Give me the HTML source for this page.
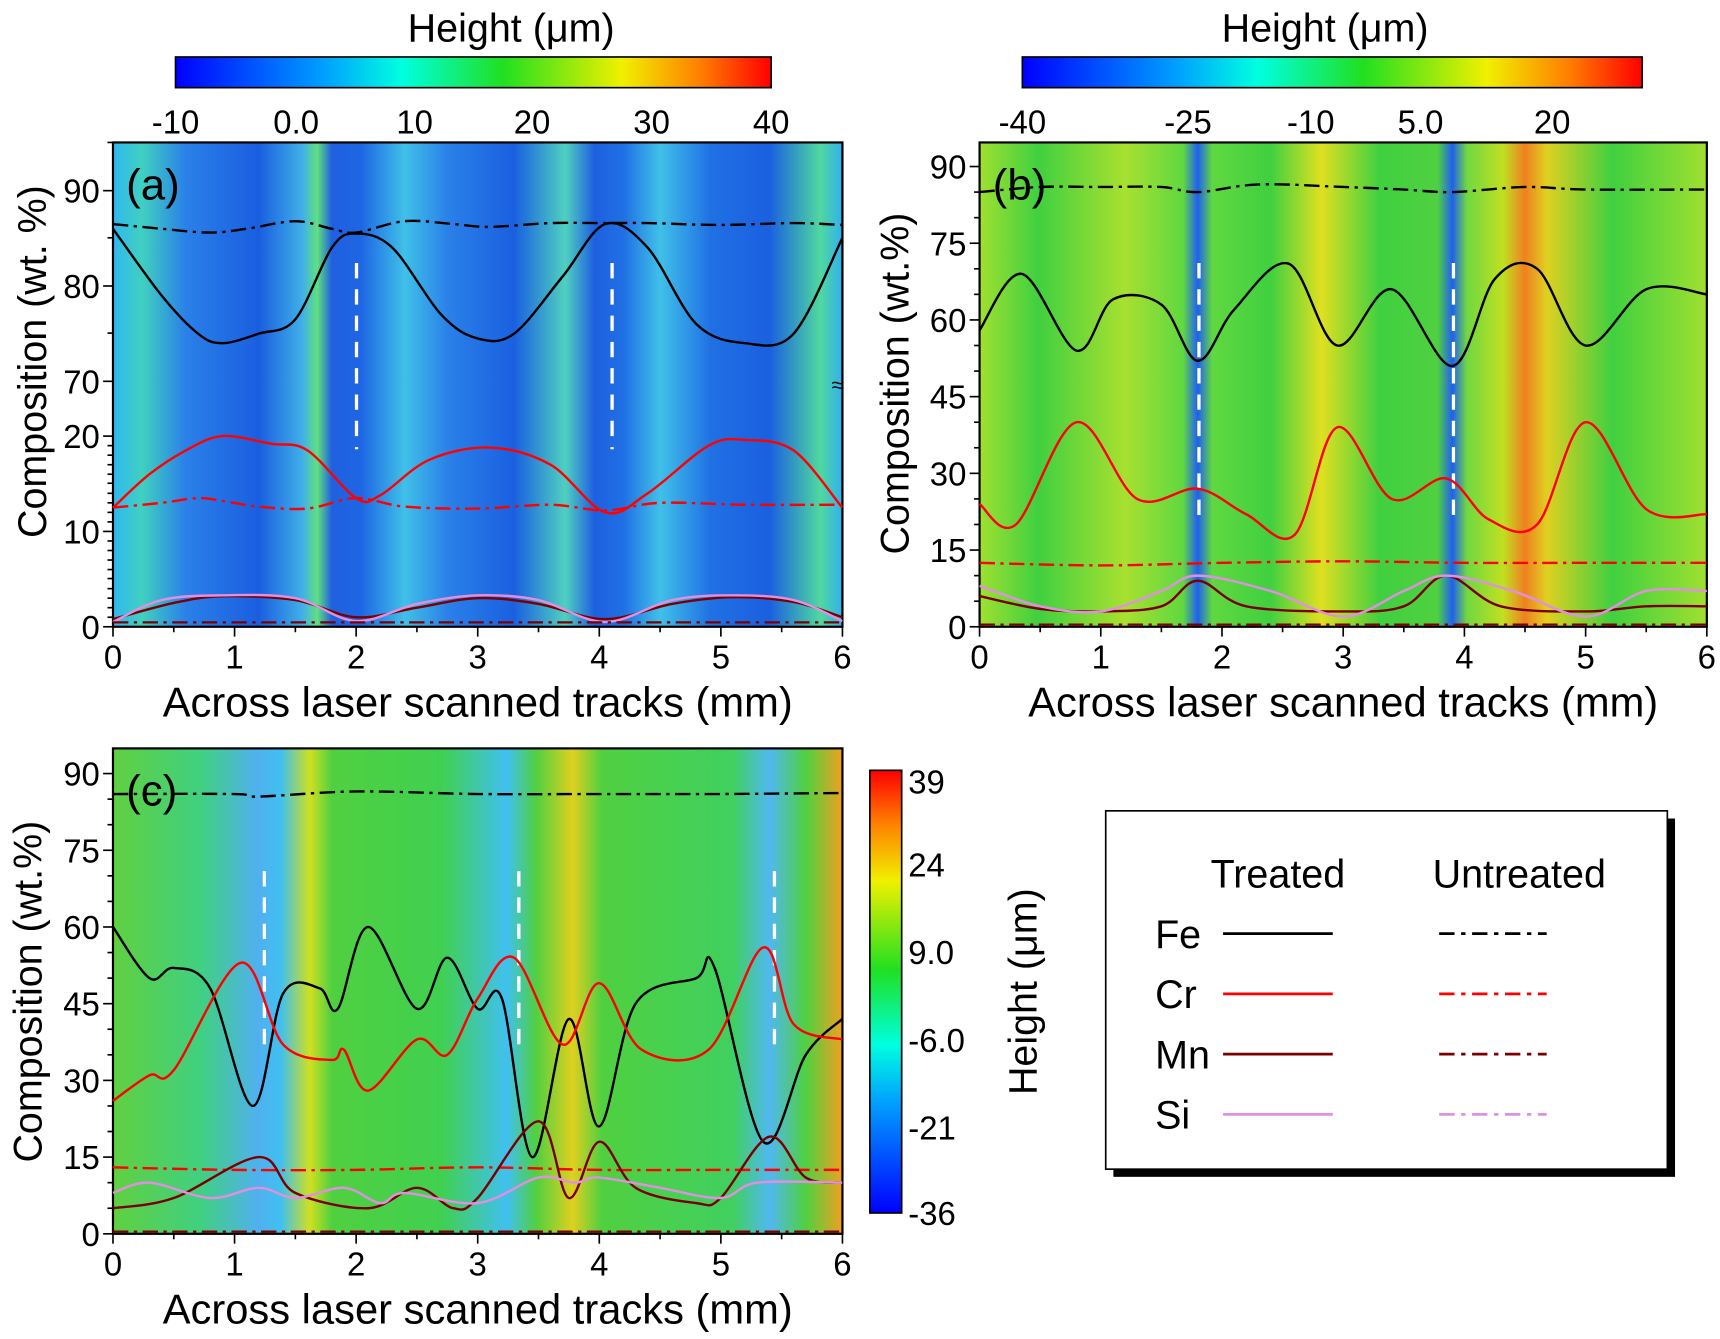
<!DOCTYPE html>
<html><head><meta charset="utf-8">
<style>
html,body{margin:0;padding:0;background:#fff;}
svg{display:block;}
text{font-family:"Liberation Sans",Arial,sans-serif;fill:#000;}
</style></head>
<body>
<svg id="s" width="1720" height="1339" viewBox="0 0 1568 1222" preserveAspectRatio="none" xmlns="http://www.w3.org/2000/svg">
<defs>
<linearGradient id="jet" x1="0" x2="1" y1="0" y2="0">
<stop offset="0" stop-color="#0000ff"/><stop offset="0.25" stop-color="#00a0ff"/><stop offset="0.38" stop-color="#00ffe0"/><stop offset="0.55" stop-color="#20e020"/><stop offset="0.75" stop-color="#f0f000"/><stop offset="0.88" stop-color="#ff8000"/><stop offset="1" stop-color="#ff0000"/>
</linearGradient>
<linearGradient id="jetv" x1="0" x2="0" y1="1" y2="0">
<stop offset="0" stop-color="#0000ff"/><stop offset="0.25" stop-color="#00a0ff"/><stop offset="0.38" stop-color="#00ffe0"/><stop offset="0.55" stop-color="#20e020"/><stop offset="0.75" stop-color="#f0f000"/><stop offset="0.88" stop-color="#ff8000"/><stop offset="1" stop-color="#ff0000"/>
</linearGradient>
<linearGradient id="ga" x1="0" x2="1">
<stop offset="0" stop-color="#30b8f0"/><stop offset="0.04" stop-color="#40d0c0"/><stop offset="0.1" stop-color="#2a80e8"/><stop offset="0.2" stop-color="#1a5ee0"/><stop offset="0.26" stop-color="#40b0e8"/><stop offset="0.28" stop-color="#60e080"/><stop offset="0.3" stop-color="#2060e0"/><stop offset="0.34" stop-color="#1e66e4"/><stop offset="0.4" stop-color="#40c0e8"/><stop offset="0.46" stop-color="#2a80e8"/><stop offset="0.55" stop-color="#1a60e0"/><stop offset="0.62" stop-color="#50d0c0"/><stop offset="0.66" stop-color="#1e60e0"/><stop offset="0.7" stop-color="#2070e4"/><stop offset="0.75" stop-color="#40c0e8"/><stop offset="0.82" stop-color="#2070e4"/><stop offset="0.9" stop-color="#1a60e0"/><stop offset="0.97" stop-color="#50d8a0"/><stop offset="1" stop-color="#30b0f0"/>
</linearGradient>
<linearGradient id="gb" x1="0" x2="1">
<stop offset="0" stop-color="#a0e030"/><stop offset="0.08" stop-color="#40d040"/><stop offset="0.2" stop-color="#a8e030"/><stop offset="0.28" stop-color="#60d840"/><stop offset="0.3" stop-color="#2060f0"/><stop offset="0.32" stop-color="#60d840"/><stop offset="0.4" stop-color="#40d040"/><stop offset="0.47" stop-color="#e0e020"/><stop offset="0.55" stop-color="#40d040"/><stop offset="0.63" stop-color="#50d040"/><stop offset="0.65" stop-color="#2060f0"/><stop offset="0.67" stop-color="#70d840"/><stop offset="0.72" stop-color="#c0e020"/><stop offset="0.75" stop-color="#f08020"/><stop offset="0.78" stop-color="#e0d020"/><stop offset="0.87" stop-color="#40d040"/><stop offset="1" stop-color="#a0e030"/>
</linearGradient>
<linearGradient id="gc" x1="0" x2="1">
<stop offset="0" stop-color="#60d040"/><stop offset="0.12" stop-color="#40d080"/><stop offset="0.2" stop-color="#50b0f0"/><stop offset="0.23" stop-color="#40c0f0"/><stop offset="0.27" stop-color="#d0e020"/><stop offset="0.3" stop-color="#50d040"/><stop offset="0.45" stop-color="#40d050"/><stop offset="0.54" stop-color="#40c0f0"/><stop offset="0.58" stop-color="#50d040"/><stop offset="0.63" stop-color="#e0d020"/><stop offset="0.67" stop-color="#50d040"/><stop offset="0.85" stop-color="#40d060"/><stop offset="0.9" stop-color="#50b8f0"/><stop offset="0.95" stop-color="#50d040"/><stop offset="1" stop-color="#f0a020"/>
</linearGradient>
</defs>
<g id="g"></g>
</svg>
<script>
var NS="http://www.w3.org/2000/svg",G=document.getElementById("g");
function el(t,a,txt){var e=document.createElementNS(NS,t);for(var k in a)e.setAttribute(k,a[k]);if(txt!=null)e.textContent=txt;G.appendChild(e);return e;}
function path(pts){var d="M"+pts[0][0]+","+pts[0][1];for(var i=0;i<pts.length-1;i++){var p0=pts[i-1]||pts[i],p1=pts[i],p2=pts[i+1],p3=pts[i+2]||p2;d+=" C"+(p1[0]+(p2[0]-p0[0])/6)+","+(p1[1]+(p2[1]-p0[1])/6)+" "+(p2[0]-(p3[0]-p1[0])/6)+","+(p2[1]-(p3[1]-p1[1])/6)+" "+p2[0]+","+p2[1];}return d;}
function curve(X,Y,data,col,dash,w){var pts=[];for(var i=0;i<data.length;i+=2)pts.push([X(data[i]),Y(data[i+1])]);el("path",{d:path(pts),fill:"none",stroke:col,"stroke-width":w||2.2,"stroke-dasharray":dash?"14,5,3,5":"none"});}
var FS=30;
// colorbars
function hbar(x0,x1,labels){el("rect",{x:x0,y:52,width:x1-x0,height:28,fill:"url(#jet)",stroke:"#000","stroke-width":1.5});}
hbar(160,703);hbar(932,1497);
el("text",{x:466,y:38,"font-size":36,"text-anchor":"middle"},"Height (μm)");
el("text",{x:1208,y:38,"font-size":36,"text-anchor":"middle"},"Height (μm)");
[["-10",160],["0.0",270],["10",378],["20",485],["30",594],["40",703]].forEach(function(a){el("text",{x:a[1],y:122,"font-size":FS,"text-anchor":"middle"},a[0]);});
[["-40",932],["-25",1083],["-10",1195],["5.0",1295],["20",1415]].forEach(function(a){el("text",{x:a[1],y:122,"font-size":FS,"text-anchor":"middle"},a[0]);});
// vertical colorbar c
el("rect",{x:793,y:703,width:29,height:404,fill:"url(#jetv)",stroke:"#000","stroke-width":1.5});
[["39",714],["24",790],["9.0",870],["-6.0",950],["-21",1030],["-36",1108]].forEach(function(a){el("text",{x:828,y:a[1]+10,"font-size":FS},a[0]);});
el("text",{x:945,y:905,"font-size":36,"text-anchor":"middle",transform:"rotate(-90 945 905)"},"Height (μm)");
// panels
function panel(x0,y0,x1,y1,grad,lab){el("rect",{x:x0,y:y0,width:x1-x0,height:y1-y0,fill:grad});el("rect",{x:x0,y:y0,width:x1-x0,height:y1-y0,fill:"none",stroke:"#000","stroke-width":2});
el("text",{x:x0+12,y:y0+52,"font-size":40},lab);
var sx=(x1-x0)/6;for(var i=0;i<=12;i++){var x=x0+i*sx/2;el("line",{x1:x,x2:x,y1:y1,y2:y1+(i%2?5:9),stroke:"#000","stroke-width":1.5});if(i%2==0)el("text",{x:x,y:y1+38,"font-size":FS,"text-anchor":"middle"},i/2);}
el("text",{x:(x0+x1)/2,y:y1+82,"font-size":38,"text-anchor":"middle"},"Across laser scanned tracks (mm)");}
panel(103,130,768,572,"url(#ga)","(a)");
panel(893,130,1556,572,"url(#gb)","(b)");
panel(103,683,768,1126,"url(#gc)","(c)");
// y ticks
function yt(x,y,lab,major){el("line",{x1:x,x2:x-(major?9:5),y1:y,y2:y,stroke:"#000","stroke-width":1.5});if(lab!=null)el("text",{x:x-12,y:y+11,"font-size":FS,"text-anchor":"end"},lab);}
// a
[[174,"90"],[261,"80"],[348,"70"],[398,"20"],[485,"10"],[572,"0"]].forEach(function(a){yt(103,a[0],a[1],1);});
[130,217,304,441,528].forEach(function(y){yt(103,y,null,0);});
for(var v=1;v<20;v+=1)if(v%5)yt(103,572-v*8.7,null,0);
el("text",{x:758,y:358,"font-size":20},"≈");
el("text",{x:42,y:330,"font-size":36,"text-anchor":"middle",transform:"rotate(-90 42 330)"},"Composition (wt. %)");
// b,c
function yax(x,y0){for(var v=0;v<=90;v+=5){var y=y0-v*4.667;yt(x,y,v%15==0?v:null,v%15==0);}}
yax(893,572);yax(103,1126);
el("text",{x:828,y:350,"font-size":36,"text-anchor":"middle",transform:"rotate(-90 828 350)"},"Composition (wt.%)");
el("text",{x:38,y:905,"font-size":36,"text-anchor":"middle",transform:"rotate(-90 38 905)"},"Composition (wt.%)");
// white dashes
function wd(x,ya,yb){el("line",{x1:x,x2:x,y1:ya,y2:yb,stroke:"#fff","stroke-width":3,"stroke-dasharray":"14,10"});}
wd(325,240,410);wd(558,240,410);wd(1093,240,470);wd(1325,240,470);wd(241,795,960);wd(473,795,960);wd(706,795,960);
// panel a curves
var Xa=function(m){return 103+m*110.8},Yu=function(v){return 348-(v-70)*8.7},Yl=function(v){return 572-v*8.7};
curve(Xa,Yu,[0,86.5,0.4,86,0.8,85.6,1.1,86,1.5,86.8,1.8,86,2.0,85.6,2.4,86.8,2.8,86.5,3.1,86.2,3.6,86.6,4.0,86.6,4.4,86.6,5.0,86.4,5.6,86.6,6,86.4],"#000",1);
curve(Xa,Yu,[0,86,0.4,79,0.7,75,0.9,74,1.2,75,1.5,76.5,1.8,84,2.0,85.5,2.3,84,2.7,77,3.0,74.5,3.3,75,3.7,81,4.05,86.5,4.4,84,4.8,76,5.2,74,5.6,75,6,85],"#000");
curve(Xa,Yl,[0,12.5,0.4,13,0.7,13.5,0.9,13.2,1.2,12.6,1.6,12.4,2.0,13.5,2.4,12.6,3.0,12.4,3.6,12.8,4.05,12.2,4.5,13,5.2,12.8,6,12.8],"red",1);
curve(Xa,Yl,[0,12.5,0.3,16,0.6,18.5,0.9,20,1.3,19.2,1.6,18.5,2.0,13.5,2.2,13.8,2.6,17.5,3.1,18.8,3.6,17,4.05,12,4.4,14,4.9,19,5.2,19.6,5.6,18.5,6,12.5],"red");
curve(Xa,Yl,[0,0.8,0.5,2.5,0.9,3.2,1.5,2.8,2,1,2.5,2,3,3,3.5,2.4,4.05,0.8,4.6,2.4,5.1,3.1,5.6,2.6,6,1],"#7a0000");
curve(Xa,Yl,[0,0.5,0.4,2.8,0.9,3.3,1.5,3,2,0.6,2.5,2.4,3,3.3,3.5,2.8,4.05,0.5,4.6,2.8,5.1,3.3,5.6,2.8,6,0.6],"#e090e0");
el("line",{x1:103,x2:768,y1:568,y2:568,stroke:"#7a0000","stroke-width":2,"stroke-dasharray":"14,5,3,5"});
// panel b
var Xb=function(m){return 893+m*110.5},Yb=function(v){return 572-v*4.667};
curve(Xb,Yb,[0,85,0.5,86,1,86,1.5,86,1.8,85,2.3,86.5,3,86,3.5,85.5,3.9,85,4.5,86,5,85.5,6,85.5],"#000",1);
curve(Xb,Yb,[0,58,0.35,69,0.8,54,1.1,64,1.5,63,1.8,52,2.1,62,2.55,71,2.95,55,3.4,66,3.9,51,4.25,68,4.6,70,5.0,55,5.5,66,6,65],"#000");
curve(Xb,Yb,[0,24,0.3,20,0.8,40,1.3,25,1.8,27,2.2,22,2.6,18,2.95,39,3.4,25,3.85,29,4.2,21,4.6,20,5.0,40,5.5,23,6,22],"red");
curve(Xb,Yb,[0,12.5,1,12,2,12.5,3,12.8,4,12.5,5,12.5,6,12.5],"red",1);
curve(Xb,Yb,[0,6,0.5,3.5,1,3,1.5,4,1.8,9,2.2,4,3,3,3.5,4,3.85,10,4.3,4,5,3,5.5,4,6,4],"#7a0000");
curve(Xb,Yb,[0,8,0.5,4,1,3,1.5,7,1.8,10,2.4,7,3,2,3.5,7,3.85,10,4.4,7,5,2,5.5,7,6,7],"#e090e0");
el("line",{x1:893,x2:1556,y1:570,y2:570,stroke:"#7a0000","stroke-width":2,"stroke-dasharray":"14,5,3,5"});
// panel c
var Xc=function(m){return 103+m*110.8},Yc=function(v){return 1126-v*4.667};
curve(Xc,Yc,[0,86,1,86,1.2,85.5,2,86.5,3,86,4,86,5,86,6,86.2],"#000",1);
curve(Xc,Yc,[0,60,0.3,50,0.5,52,0.8,48,1.15,25,1.4,47,1.7,48,1.85,44,2.1,60,2.5,44,2.75,54,3.0,44,3.2,46,3.45,15,3.75,42,4.0,21,4.3,45,4.8,50,4.95,52,5.35,18,5.7,35,6,42],"#000");
curve(Xc,Yc,[0,26,0.3,31,0.5,32,1.05,53,1.4,37,1.8,34,1.9,36,2.1,28,2.5,38,2.75,35,3.0,46,3.3,54,3.7,37,4.0,49,4.35,36,4.9,36,5.35,56,5.6,41,6,38],"red");
curve(Xc,Yc,[0,13,1,12.5,2,12.5,3,13,4,12.5,5,12.5,6,12.5],"red",1);
curve(Xc,Yc,[0,5,0.5,7,1.2,15,1.5,8,2.1,5,2.5,9,2.8,5,3.0,7,3.5,22,3.75,7,4.0,18,4.3,9,4.8,6,5.0,7,5.4,19,5.7,11,6,10],"#7a0000");
curve(Xc,Yc,[0,8,0.3,10,0.8,7,1.2,9,1.5,7,1.9,9,2.2,6,2.4,8,3.0,6,3.5,11,3.8,10,4.0,11,4.5,9,5.0,7,5.3,10,6,10],"#e090e0");
el("line",{x1:103,x2:768,y1:1124,y2:1124,stroke:"#7a0000","stroke-width":2,"stroke-dasharray":"14,5,3,5"});
// legend
el("rect",{x:1015,y:747,width:512,height:327,fill:"#000"});
el("rect",{x:1008,y:740,width:512,height:327,fill:"#fff",stroke:"#000","stroke-width":1.5});
el("text",{x:1165,y:810,"font-size":36,"text-anchor":"middle"},"Treated");
el("text",{x:1385,y:810,"font-size":36,"text-anchor":"middle"},"Untreated");
[["Fe","#000",852],["Cr","red",907],["Mn","#7a0000",962],["Si","#e090e0",1017]].forEach(function(a){
el("text",{x:1053,y:a[2]+13,"font-size":36},a[0]);
el("line",{x1:1115,x2:1215,y1:a[2],y2:a[2],stroke:a[1],"stroke-width":2.5});
el("line",{x1:1312,x2:1410,y1:a[2],y2:a[2],stroke:a[1],"stroke-width":2.5,"stroke-dasharray":"14,6,4,6"});});
</script>
</body></html>
